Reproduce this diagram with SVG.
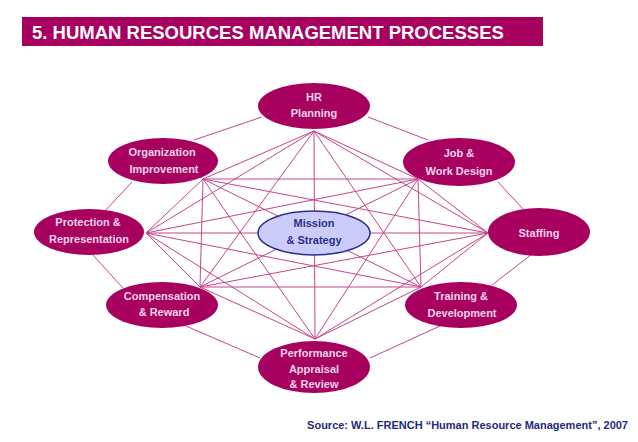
<svg xmlns="http://www.w3.org/2000/svg" width="638" height="442" viewBox="0 0 638 442">
<style>
.n{fill:#a8005f}
.t{font-family:"Liberation Sans",Arial,sans-serif;font-weight:bold;font-size:11px;fill:#f6d6ea;text-anchor:middle}
#links line{stroke:#c4468a;stroke-width:1}
</style>
<rect width="638" height="442" fill="#fff"/>
<g id="title"><rect x="22" y="17" width="521" height="29" fill="#a8005f"/>
<text x="32" y="39" font-family="Liberation Sans,Arial,sans-serif" font-weight="bold" font-size="18.5" fill="#fff">5. HUMAN RESOURCES MANAGEMENT PROCESSES</text></g>
<g id="links">
<line x1="262" y1="117" x2="194" y2="140"/><line x1="368" y1="117" x2="428" y2="140"/>
<line x1="132" y1="182" x2="105" y2="211"/><line x1="498" y1="182" x2="524" y2="210"/>
<line x1="92" y1="254" x2="123" y2="288"/><line x1="532" y1="254" x2="492" y2="285"/>
<line x1="186" y1="326" x2="260" y2="358"/><line x1="440" y1="326" x2="370" y2="358"/>
<line x1="314" y1="131" x2="203" y2="179"/><line x1="314" y1="131" x2="418" y2="179"/><line x1="314" y1="131" x2="146" y2="233"/><line x1="314" y1="131" x2="488" y2="233"/><line x1="314" y1="131" x2="200" y2="287"/><line x1="314" y1="131" x2="421" y2="287"/><line x1="314" y1="131" x2="315" y2="339"/>
<line x1="203" y1="179" x2="418" y2="179"/><line x1="203" y1="179" x2="146" y2="233"/><line x1="203" y1="179" x2="488" y2="233"/><line x1="203" y1="179" x2="200" y2="287"/><line x1="203" y1="179" x2="421" y2="287"/><line x1="203" y1="179" x2="315" y2="339"/>
<line x1="418" y1="179" x2="146" y2="233"/><line x1="418" y1="179" x2="488" y2="233"/><line x1="418" y1="179" x2="200" y2="287"/><line x1="418" y1="179" x2="421" y2="287"/><line x1="418" y1="179" x2="315" y2="339"/>
<line x1="146" y1="233" x2="488" y2="233"/><line x1="146" y1="233" x2="200" y2="287"/><line x1="146" y1="233" x2="421" y2="287"/><line x1="146" y1="233" x2="315" y2="339"/>
<line x1="488" y1="233" x2="200" y2="287"/><line x1="488" y1="233" x2="421" y2="287"/><line x1="488" y1="233" x2="315" y2="339"/>
<line x1="200" y1="287" x2="421" y2="287"/><line x1="200" y1="287" x2="315" y2="339"/><line x1="421" y1="287" x2="315" y2="339"/>
</g>
<g id="hr"><ellipse class="n" cx="314" cy="106" rx="56" ry="23"/><text class="t" x="314" y="101">HR</text><text class="t" x="314" y="117">Planning</text></g>
<g id="org"><ellipse class="n" cx="163" cy="161" rx="55" ry="23"/><text class="t" x="162" y="156">Organization</text><text class="t" x="164" y="173">Improvement</text></g>
<g id="job"><ellipse class="n" cx="459" cy="162" rx="56" ry="24"/><text class="t" x="459" y="157">Job &amp;</text><text class="t" x="459" y="175">Work Design</text></g>
<g id="prot"><ellipse class="n" cx="89" cy="232" rx="55" ry="23"/><text class="t" x="88" y="226">Protection &amp;</text><text class="t" x="89" y="243">Representation</text></g>
<g id="staff"><ellipse class="n" cx="539" cy="232" rx="51" ry="24"/><text class="t" x="539" y="237">Staffing</text></g>
<g id="mission"><ellipse cx="314" cy="233" rx="56" ry="22" fill="#ccccfa" stroke="#2a2f8a" stroke-width="1.5"/><text class="t" x="314" y="227" fill="#2a2f8a" style="fill:#2a2f8a">Mission</text><text class="t" x="314" y="244" style="fill:#2a2f8a">&amp; Strategy</text></g>
<g id="comp"><ellipse class="n" cx="162" cy="305" rx="56" ry="23"/><text class="t" x="162" y="300">Compensation</text><text class="t" x="164" y="316">&amp; Reward</text></g>
<g id="train"><ellipse class="n" cx="461" cy="305" rx="56" ry="23"/><text class="t" x="461" y="300">Training &amp;</text><text class="t" x="462" y="317">Development</text></g>
<g id="perf"><ellipse class="n" cx="314" cy="367" rx="56" ry="26"/><text class="t" x="314" y="357">Performance</text><text class="t" x="314" y="373">Appraisal</text><text class="t" x="314" y="388">&amp; Review</text></g>
<text x="628" y="429" text-anchor="end" font-family="Liberation Sans,Arial,sans-serif" font-weight="bold" font-size="11" fill="#1f2a7a">Source:  W.L. FRENCH “Human Resource Management”, 2007</text>
</svg>
